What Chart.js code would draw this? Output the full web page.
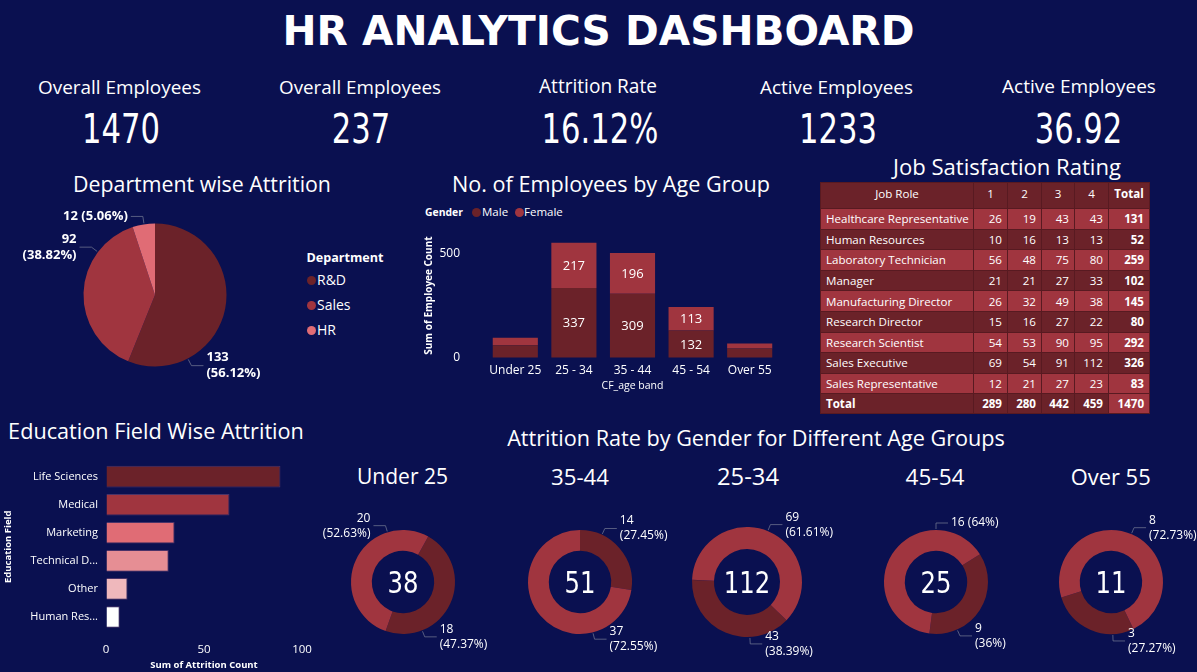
<!DOCTYPE html>
<html><head><meta charset="utf-8">
<script src="https://cdn.jsdelivr.net/npm/chart.js@4.4.0/dist/chart.umd.min.js"></script>
<style>
html,body{margin:0;padding:0;background:#0a1050;width:1197px;height:672px;overflow:hidden;}
body{position:relative;font-family:"Open Sans",sans-serif;color:#fff;}
.t{position:absolute;white-space:nowrap;transform:translate(-50%,-50%);line-height:1;color:#fff;}
canvas{position:absolute;}
.dot{position:absolute;border-radius:50%;}
#tbl{position:absolute;left:820px;top:182px;border-collapse:collapse;table-layout:fixed;width:329px;font-family:"Open Sans",sans-serif;}
#tbl td,#tbl th{padding:0 5px;color:#fff;white-space:nowrap;overflow:hidden;border:1px solid #581a21;box-sizing:border-box;}
#tbl th{height:26px;background:#6b2229;font-weight:normal;text-align:center;padding-bottom:4px;}
#tbl td{height:20.6px;text-align:right;}
#tbl td.role{text-align:left;}
#tbl tr.l td{background:#a0353f;}
#tbl tr.d td{background:#6b2229;}
#tbl tr.tot td{background:#6b2229;font-weight:bold;height:20px;}
#tbl tr.tot td.hl{background:#a0353f;}
#tbl td.b,#tbl th.b{font-weight:bold;}
</style></head>
<body>
<script>
// ---------------- DATA ----------------
const kpiLabels = ['Overall Employees','Overall Employees','Attrition Rate','Active Employees','Active Employees'];
const kpiValues = ['1470','237','16.12%','1233','36.92'];

const departments = ['R&D','Sales','HR'];
const deptAttrition = [133, 92, 12];

const ageBands = ['Under 25','25 - 34','35 - 44','45 - 54','Over 55'];
const maleCount = [61, 337, 309, 132, 46];
const femaleCount = [36, 217, 196, 113, 24];
const ageTicks = [0, 500];

const jobRoles = ['Healthcare Representative','Human Resources','Laboratory Technician','Manager','Manufacturing Director','Research Director','Research Scientist','Sales Executive','Sales Representative'];
const satHeaders = ['1','2','3','4'];
const sat1 = [26,10,56,21,26,15,54,69,12];
const sat2 = [19,16,48,21,32,16,53,54,21];
const sat3 = [43,13,75,27,49,27,90,91,27];
const sat4 = [43,13,80,33,38,22,95,112,23];

const eduFields = ['Life Sciences','Medical','Marketing','Technical D...','Other','Human Res...'];
const eduAttrition = [89, 63, 35, 32, 11, 7];
const eduTicks = [0, 50, 100];

const donutGroups = ['Under 25','35-44','25-34','45-54','Over 55'];
const donutDark = [18, 14, 43, 9, 3];
const donutLight = [20, 37, 69, 16, 8];

// ---------------- STYLE ----------------
const DARK = '#6b2229', MID = '#a0353f', PINK = '#e06c75';
const eduColors = ['#6b2229','#a0353f','#e06c75','#e68e94','#efb8bc','#ffffff'];
const FONT = '"Open Sans", sans-serif';
const NUMFONT = '"Liberation Sans Narrow", "DejaVu Sans Condensed", sans-serif';
const CLEAR = 'rgba(0,0,0,0)';
Chart.defaults.font.family = FONT;
Chart.defaults.color = '#ffffff';

function addText(txt, cx, cy, size, family, weight, targetW){
  const d = document.createElement('div');
  d.className = 't';
  d.textContent = txt;
  d.style.left = cx + 'px'; d.style.top = cy + 'px';
  d.style.fontSize = size + 'px'; d.style.fontFamily = family; d.style.fontWeight = weight || 'normal';
  document.body.appendChild(d);
  if (targetW) {
    const w = d.getBoundingClientRect().width;
    if (w > 0) d.style.fontSize = (size * targetW / w) + 'px';
  }
  return d;
}
function addLeftText(txt, left, cy, size, weight){
  const e = addText(txt, 0, cy, size, FONT, weight);
  e.style.transform = 'translate(0,-50%)'; e.style.left = left + 'px';
  return e;
}
function addCanvas(left, top, w, h){
  const c = document.createElement('canvas');
  c.width = w; c.height = h; c.style.left = left + 'px'; c.style.top = top + 'px';
  c.style.width = w + 'px'; c.style.height = h + 'px';
  document.body.appendChild(c);
  return c;
}
function dot(cx, cy, d, color){
  const e = document.createElement('div'); e.className = 'dot';
  e.style.left = (cx - d/2) + 'px'; e.style.top = (cy - d/2) + 'px';
  e.style.width = d + 'px'; e.style.height = d + 'px'; e.style.background = color;
  document.body.appendChild(e);
}
// size a condensed number font so that the given sample has the given width and cap height
const measureCtx = document.createElement('canvas').getContext('2d');
function numMetrics(sample, targetW, targetH){
  measureCtx.font = '100px ' + NUMFONT;
  const m = measureCtx.measureText(sample);
  const size = 100 * targetW / m.width;
  const cap = m.actualBoundingBoxAscent * size / 100;
  return { size, sy: targetH / cap };
}

// ---------------- PLUGINS ----------------
const sliceLabels = {
  id: 'sliceLabels',
  afterDatasetsDraw(chart, args, o){
    if (!o || !o.angles) return;
    const ctx = chart.ctx;
    const meta = chart.getDatasetMeta(0);
    const data = chart.data.datasets[0].data;
    const total = data.reduce((a,b)=>a+b,0);
    meta.data.forEach((arc, i) => {
      const p = arc.getProps(['x','y','outerRadius'], true);
      const a = o.angles[i] * Math.PI / 180;
      const sx = p.x + (p.outerRadius + 1) * Math.sin(a), sy = p.y - (p.outerRadius + 1) * Math.cos(a);
      const ex = p.x + (p.outerRadius + o.elbow) * Math.sin(a), ey = p.y - (p.outerRadius + o.elbow) * Math.cos(a);
      const right = o.angles[i] < 180;
      const hx = ex + (right ? 1 : -1) * o.hlen;
      ctx.save();
      ctx.strokeStyle = o.lineColor; ctx.lineWidth = 1;
      ctx.beginPath(); ctx.moveTo(sx, sy); ctx.lineTo(ex, ey); ctx.lineTo(hx, ey); ctx.stroke();
      const pct = parseFloat((data[i] / total * 100).toFixed(2)) + '%';
      const lines = (o.oneLine && o.oneLine[i]) ? [data[i] + ' (' + pct + ')'] : [String(data[i]), '(' + pct + ')'];
      ctx.font = o.font; ctx.fillStyle = '#ffffff';
      ctx.textAlign = right ? 'left' : 'right'; ctx.textBaseline = 'middle';
      const tx = hx + (right ? 3 : -3);
      const y0 = ey - (lines.length - 1) * o.lh / 2;
      lines.forEach((l, k) => ctx.fillText(l, tx, y0 + k * o.lh));
      ctx.restore();
    });
  }
};
const centerText = {
  id: 'centerText',
  afterDatasetsDraw(chart, args, o){
    if (!o || !o.text) return;
    const arc = chart.getDatasetMeta(0).data[0];
    const ctx = chart.ctx;
    ctx.save();
    ctx.translate(arc.x, arc.y + 3);
    ctx.scale(1, o.sy || 1);
    ctx.font = o.font; ctx.fillStyle = '#fff'; ctx.textAlign = 'center'; ctx.textBaseline = 'middle';
    ctx.fillText(o.text, 0, 0);
    ctx.restore();
  }
};
const barValues = {
  id: 'barValues',
  afterDatasetsDraw(chart, args, o){
    if (!o || !o.show) return;
    const ctx = chart.ctx;
    ctx.save(); ctx.font = o.font; ctx.fillStyle = '#fff'; ctx.textAlign = 'center'; ctx.textBaseline = 'middle';
    chart.data.datasets.forEach((ds, di) => {
      chart.getDatasetMeta(di).data.forEach((bar, i) => {
        const p = bar.getProps(['x','y','base'], true);
        if (Math.abs(p.base - p.y) < o.minH) return;
        ctx.fillText(String(ds.data[i]), p.x, (p.y + p.base) / 2 + 1);
      });
    });
    ctx.restore();
  }
};

// ---------------- HEADER & KPIs ----------------
addText('HR ANALYTICS DASHBOARD', 598.5, 31, 42, '"DejaVu Sans", sans-serif', 'bold', 632);
const kpiX = [119.5, 360, 598, 836.5, 1079];
const kpiLW = [163, 162, 118, 153, 154];
const kpiVX = [121, 361, 600, 838, 1078.5];
kpiLabels.forEach((l, i) => addText(l, kpiX[i], 87, 18, FONT, 'normal', kpiLW[i]));
const kpiM = numMetrics('1470', 78, 30);
kpiValues.forEach((v, i) => {
  const e = addText(v, kpiVX[i], 128.5, kpiM.size, NUMFONT, 'normal');
  e.style.transform = 'translate(-50%,-50%) scaleY(' + kpiM.sy + ')';
});

// ---------------- DEPARTMENT PIE ----------------
addText('Department wise Attrition', 202, 184, 20, FONT, 'normal', 258);
{
  const c = addCanvas(10, 200, 290, 190);
  new Chart(c, {
    type: 'pie',
    data: { labels: departments, datasets: [{ data: deptAttrition, backgroundColor: [DARK, MID, PINK], borderWidth: 0 }] },
    options: {
      responsive: false, animation: false,
      layout: { padding: { left: 73.5, right: 73.5, top: 23.5, bottom: 23.5 } },
      plugins: {
        legend: { display: false }, tooltip: { enabled: false },
        sliceLabels: { angles: [152.7, 307, 351.2], oneLine: [false, false, true], elbow: 8, hlen: 12,
          lh: 16, font: 'bold 13px ' + FONT, lineColor: 'rgba(120,125,150,0.7)' }
      }
    },
    plugins: [sliceLabels]
  });
}
addText('Department', 345, 258, 13, FONT, 'bold', 77);
const legY = [280, 305, 330];
const legC = [DARK, MID, PINK];
departments.forEach((d, i) => {
  dot(311, legY[i], 9, legC[i]);
  addLeftText(d, 317, legY[i], 14, 'normal');
});

// ---------------- AGE GROUP STACKED BAR ----------------
addText('No. of Employees by Age Group', 611, 184, 20, FONT, 'normal', 318);
{
  addText('Gender', 444, 212, 11, FONT, 'bold', 38);
  dot(476, 212, 9, DARK);
  addLeftText('Male', 482, 212, 11.5, 'normal');
  dot(519, 212, 9, MID);
  addLeftText('Female', 524, 212, 11.5, 'normal');

  const c = addCanvas(420, 225, 370, 170);
  new Chart(c, {
    type: 'bar',
    data: { labels: ageBands, datasets: [
      { label: 'Male', data: maleCount, backgroundColor: DARK, stack: 's' },
      { label: 'Female', data: femaleCount, backgroundColor: MID, stack: 's' }
    ] },
    options: {
      responsive: false, animation: false,
      layout: { padding: { top: 0, right: 11, left: 0, bottom: 0 } },
      datasets: { bar: { categoryPercentage: 1, barPercentage: 0.77 } },
      scales: {
        x: { stacked: true, grid: { color: CLEAR, drawOnChartArea: false, drawTicks: true, tickLength: 4 }, border: { display: false },
          ticks: { color: '#fff', font: { size: 12 }, padding: 1, maxRotation: 0 },
          title: { display: true, text: 'CF_age band', color: '#fff', font: { size: 10.5 }, padding: { top: 0, bottom: 3 } },
          afterFit: s => { s.height = 37; } },
        y: { stacked: true, min: 0, max: 600, grid: { color: CLEAR, drawOnChartArea: false, drawTicks: true, tickLength: 25 }, border: { display: false },
          ticks: { color: '#fff', font: { size: 12 }, padding: 1 },
          afterBuildTicks: s => { s.ticks = ageTicks.map(v => ({ value: v })); },
          title: { display: true, text: 'Sum of Employee Count', color: '#fff', font: { size: 10, weight: 'bold' }, padding: { top: 3, bottom: 0 } },
          afterFit: s => { s.width = 66; } }
      },
      plugins: { legend: { display: false }, tooltip: { enabled: false },
        barValues: { show: true, font: '13px ' + FONT, minH: 20 } }
    },
    plugins: [barValues]
  });
}

// ---------------- JOB SATISFACTION TABLE ----------------
addText('Job Satisfaction Rating', 1007, 166, 21, FONT, 'normal', 228);
{
  measureCtx.font = '13px ' + FONT;
  const fs = 13 * 143 / measureCtx.measureText('Healthcare Representative').width;
  const cols = [sat1, sat2, sat3, sat4];
  const widths = [153, 34, 34, 33, 34, 41];
  let h = '<colgroup>' + widths.map(w => '<col style="width:' + w + 'px">').join('') + '</colgroup>';
  h += '<tr><th>Job Role</th>' + satHeaders.map(s => '<th>' + s + '</th>').join('') + '<th class="b">Total</th></tr>';
  jobRoles.forEach((r, i) => {
    const vals = cols.map(c => c[i]);
    const tot = vals.reduce((a, b) => a + b, 0);
    h += '<tr class="' + (i % 2 === 0 ? 'l' : 'd') + '"><td class="role">' + r + '</td>' +
      vals.map(v => '<td>' + v + '</td>').join('') + '<td class="b">' + tot + '</td></tr>';
  });
  const colTot = cols.map(c => c.reduce((a, b) => a + b, 0));
  const grand = colTot.reduce((a, b) => a + b, 0);
  h += '<tr class="tot"><td class="role">Total</td>' + colTot.map(v => '<td>' + v + '</td>').join('') + '<td class="hl">' + grand + '</td></tr>';
  const t = document.createElement('table'); t.id = 'tbl'; t.innerHTML = h;
  t.style.fontSize = fs + 'px';
  document.body.appendChild(t);
}

// ---------------- EDUCATION FIELD BAR ----------------
addText('Education Field Wise Attrition', 156, 431, 20, FONT, 'normal', 296);
{
  const c = addCanvas(0, 455, 320, 217);
  new Chart(c, {
    type: 'bar',
    data: { labels: eduFields, datasets: [{ data: eduAttrition, backgroundColor: eduColors,
      borderColor: 'rgba(90,60,110,0.8)', borderWidth: 1 }] },
    options: {
      indexAxis: 'y', responsive: false, animation: false,
      layout: { padding: { top: 0, right: 18, left: 0, bottom: 0 } },
      datasets: { bar: { categoryPercentage: 1, barPercentage: 0.77 } },
      scales: {
        x: { min: 0, max: 100, grid: { color: CLEAR, drawOnChartArea: false, drawTicks: true, tickLength: 11 }, border: { display: false },
          afterBuildTicks: s => { s.ticks = eduTicks.map(v => ({ value: v })); },
          ticks: { color: '#fff', font: { size: 11.5 }, padding: 1 },
          title: { display: true, text: 'Sum of Attrition Count', color: '#fff', font: { size: 9.5, weight: 'bold' }, padding: { top: 0, bottom: 1 } },
          afterFit: s => { s.height = 41; } },
        y: { grid: { color: CLEAR, drawOnChartArea: false, drawTicks: true, tickLength: 7 }, border: { display: false },
          ticks: { color: '#fff', font: { size: 11 }, padding: 1 },
          title: { display: true, text: 'Education Field', color: '#fff', font: { size: 9.5, weight: 'bold' }, padding: { top: 3, bottom: 0 } },
          afterFit: s => { s.width = 106; } }
      },
      plugins: { legend: { display: false }, tooltip: { enabled: false } }
    }
  });
}

// ---------------- DONUTS ----------------
addText('Attrition Rate by Gender for Different Age Groups', 756, 438, 20, FONT, 'normal', 498);
const donutLayout = [
  { cx: 403, cy: 581.5, r: 52, rot: 29, la: [158.4, 342.7], one: [false, false], tx: 402.5, tw: 91 },
  { cx: 580, cy: 581.5, r: 52, rot: 0, la: [24.9, 165.7], one: [false, false], tx: 580, tw: 58 },
  { cx: 747, cy: 581.5, r: 55, rot: 134, la: [177, 22.2], one: [false, false], tx: 748, tw: 62 },
  { cx: 935.5, cy: 581.5, r: 52, rot: 57.7, la: [156, 0], one: [false, true], tx: 935, tw: 59 },
  { cx: 1111, cy: 581.5, r: 52, rot: 154.5, la: [178, 23], one: [false, false], tx: 1110.7, tw: 80 }
];
const donM = numMetrics('38', 31, 22);
donutGroups.forEach((g, i) => {
  const L = donutLayout[i];
  addText(g, L.tx, 477, 20, FONT, 'normal', L.tw);
  const W = 176, H = 166;
  const c = addCanvas(L.cx - W / 2, L.cy - H / 2, W, H);
  const ph = (W - 2 * L.r) / 2, pv = (H - 2 * L.r) / 2;
  new Chart(c, {
    type: 'doughnut',
    data: { labels: ['Dark', 'Light'], datasets: [{ data: [donutDark[i], donutLight[i]], backgroundColor: [DARK, MID], borderWidth: 0 }] },
    options: {
      responsive: false, animation: false, cutout: '60%', rotation: L.rot,
      layout: { padding: { left: ph, right: ph, top: pv, bottom: pv } },
      plugins: {
        legend: { display: false }, tooltip: { enabled: false },
        centerText: { text: String(donutDark[i] + donutLight[i]), font: donM.size + 'px ' + NUMFONT, sy: donM.sy },
        sliceLabels: { angles: L.la, oneLine: L.one, elbow: 7, hlen: 12, lh: 15,
          font: '12px ' + FONT, lineColor: 'rgba(120,125,150,0.7)' }
      }
    },
    plugins: [centerText, sliceLabels]
  });
});
</script>
</body></html>
